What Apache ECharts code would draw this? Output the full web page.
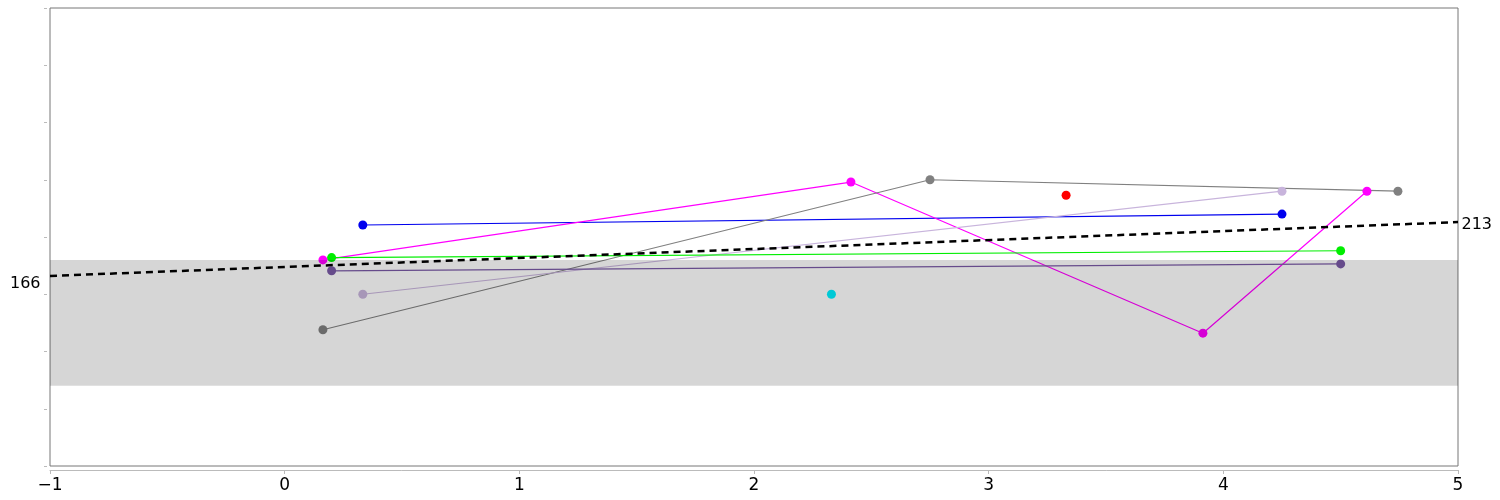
<!DOCTYPE html>
<html>
<head>
<meta charset="utf-8">
<script src="https://cdn.jsdelivr.net/npm/echarts@6/dist/echarts.min.js"></script>
</head>
<body style="margin:0">
<div id="chart" style="width:1500px;height:500px"></div>
<script>
// data
var xTicks = [-1, 0, 1, 2, 3, 4, 5];
var band = [70, 180];
var trend = [[-1, 166], [5, 213]];

var blue = [[0.333, 210.5], [4.25, 220]];
var magenta = [[0.163, 180], [2.413, 248], [3.913, 116], [4.612, 240]];
var gray = [[0.163, 119], [2.75, 250], [4.744, 240]];
var lavender = [[0.333, 150], [4.25, 240]];
var green = [[0.2, 182], [4.5, 188]];
var purple = [[0.2, 170.5], [4.5, 176.5]];
var red = [[3.33, 236.5]];
var cyan = [[2.33, 150]];

function pathSeries(name, data, color) {
    return {
        name: name,
        type: 'line',
        data: data,
        symbol: 'circle',
        symbolSize: 9,
        showSymbol: true,
        z: 3,
        lineStyle: { color: color, width: 1.2 },
        itemStyle: { color: color },
        emphasis: { disabled: true },
        animation: false
    };
}

var chart = echarts.init(document.getElementById('chart'));
var option = {
    animation: false,
    grid: { left: 50, right: 42, top: 8, bottom: 34, show: true, borderColor: '#777', borderWidth: 1 },
    xAxis: {
        type: 'value', min: xTicks[0], max: xTicks[xTicks.length - 1], interval: 1,
        offset: 4,
        axisLine: { show: true, onZero: false, lineStyle: { color: '#bbb' } },
        axisTick: { show: true, length: 4, lineStyle: { color: '#bbb' } },
        axisLabel: { fontSize: 17, color: '#000', margin: 7, fontFamily: 'DejaVu Sans',
            formatter: function (v) { return v < 0 ? '\u2212' + (-v) : String(v); } },
        splitLine: { show: false }
    },
    yAxis: {
        type: 'value', min: 0, max: 400, interval: 50,
        offset: 3,
        axisLine: { show: false, onZero: false },
        axisTick: { show: true, length: 3, lineStyle: { color: '#bbb' } },
        axisLabel: { show: false },
        splitLine: { show: false }
    },
    series: [
        {
            name: 'trend',
            type: 'line',
            data: trend.map(function (p, i) {
                return {
                    value: p,
                    label: {
                        show: true,
                        position: i === 0 ? 'left' : 'right',
                        distance: i === 0 ? 9 : 3,
                        offset: i === 0 ? [0, 8] : [0, 3],
                        formatter: String(p[1]),
                        fontSize: 16, color: '#000', fontFamily: 'DejaVu Sans'
                    }
                };
            }),
            symbol: 'circle', symbolSize: 1, showSymbol: true,
            itemStyle: { color: 'rgba(0,0,0,0)' },
            lineStyle: { color: '#000', width: 2.5, type: [7, 5] },
            clip: false,
            z: 4
        },
        pathSeries('blue', blue, '#0000ee'),
        pathSeries('magenta', magenta, '#ff00ff'),
        pathSeries('gray', gray, '#808080'),
        pathSeries('lavender', lavender, '#c8b4dc'),
        pathSeries('green', green, '#00ee00'),
        pathSeries('purple', purple, '#7a5aa6'),
        pathSeries('red', red, '#ff0000'),
        pathSeries('cyan', cyan, '#00f0ff'),
        {
            // translucent band laid over the marks
            name: 'band',
            type: 'line',
            data: [],
            markArea: {
                z: 20,
                silent: true,
                itemStyle: { color: 'rgba(0,0,0,0.16)' },
                data: [[{ yAxis: band[0] }, { yAxis: band[1] }]]
            }
        }
    ]
};
chart.setOption(option);
</script>
</body>
</html>
